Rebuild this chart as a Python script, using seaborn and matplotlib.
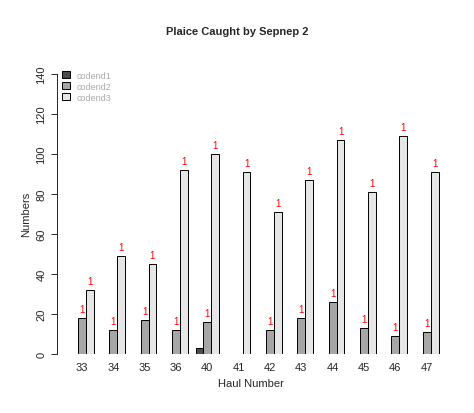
import matplotlib
matplotlib.use("Agg")
import matplotlib.pyplot as plt
import seaborn as sns
import pandas as pd

hauls = ["33","34","35","36","40","41","42","43","44","45","46","47"]
codend1 = [0,0,0,0,3,0,0,0,0,0,0,0]
codend2 = [18,12,17,12,16,0,12,18,26,13,9,11]
codend3 = [32,49,45,92,100,91,71,87,107,81,109,91]

df = pd.DataFrame({
    "haul": hauls*3,
    "value": codend1+codend2+codend3,
    "codend": ["codend1"]*12+["codend2"]*12+["codend3"]*12,
})

sns.set_style("white")
plt.rcParams['font.family'] = ['Liberation Sans', 'DejaVu Sans']
fig = plt.figure(figsize=(4.74,4.14), dpi=100)
ax = fig.add_axes([0.12, 0.143, 0.82, 0.676])
pal = {"codend1":"#4d4d4d","codend2":"#a6a6a6","codend3":"#e6e6e6"}
sns.barplot(data=df, x="haul", y="value", hue="codend", palette=pal,
            width=0.75, edgecolor="black", linewidth=0.7, ax=ax, saturation=1)
for cont in ax.containers[1:]:
    for b in cont:
        h = b.get_height()
        if h > 0:
            ax.text(b.get_x()+b.get_width()/2, h+2, "1", color="red",
                    ha="center", va="bottom", fontsize=7)
ax.set_ylim(0,140)
ax.set_xlim(-0.8, 11.6)
ax.set_yticks(range(0,141,20))
ax.tick_params(axis='y', labelsize=8, length=4, left=True, width=0.7, labelrotation=90)
for t in ax.get_yticklabels():
    t.set_va("center")
ax.tick_params(axis='x', labelsize=8, length=0, pad=6)
for s in ["top","right","bottom"]:
    ax.spines[s].set_visible(False)
ax.spines["left"].set_linewidth(0.7)
ax.spines["left"].set_bounds(0,140)
ax.set_xlabel("Haul Number", fontsize=8)
ax.set_ylabel("Numbers", fontsize=8)
fig.suptitle("Plaice Caught by Sepnep 2", fontsize=8, fontweight="bold", y=0.935)
leg = ax.legend(loc="upper left", bbox_to_anchor=(0.0, 1.03), frameon=False,
                fontsize=6.5, handlelength=0.8, handleheight=0.8,
                labelspacing=0.2, borderpad=0.1, handletextpad=0.8)
for t in leg.get_texts():
    t.set_color("#aaaaaa")
fig.savefig("out.png", dpi=100)
